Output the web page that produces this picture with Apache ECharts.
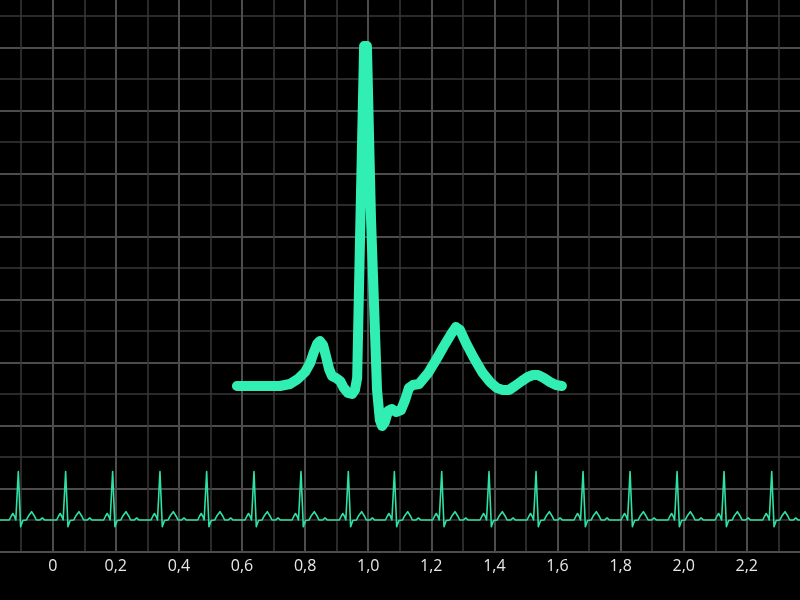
<!DOCTYPE html>
<html>
<head>
<meta charset="utf-8">
<script src="https://cdn.jsdelivr.net/npm/echarts@6/dist/echarts.min.js"></script>
<style>
html,body{margin:0;padding:0;background:#000;overflow:hidden;}
#chart{width:800px;height:600px;}
</style>
</head>
<body>
<div id="chart"></div>
<script>
// X tick values and their labels (comma decimals)
var xTickValues = [0, 0.2, 0.4, 0.6, 0.8, 1.0, 1.2, 1.4, 1.6, 1.8, 2.0, 2.2];
var xTickLabels = ['0', '0,2', '0,4', '0,6', '0,8', '1,0', '1,2', '1,4', '1,6', '1,8', '2,0', '2,2'];

// Large single heartbeat trace: x (time) and y (amplitude, grid units)
var bigX = [0.584, 0.720, 0.752, 0.777, 0.800, 0.816, 0.828, 0.838, 0.847, 0.857, 0.866, 0.876, 0.885, 0.898, 0.911, 0.923, 0.936, 0.949, 0.958, 0.965, 0.974, 0.987, 0.996, 1.009, 1.028, 1.037, 1.044, 1.053, 1.063, 1.075, 1.088, 1.104, 1.117, 1.129, 1.142, 1.161, 1.190, 1.215, 1.240, 1.263, 1.278, 1.291, 1.310, 1.335, 1.361, 1.386, 1.408, 1.427, 1.446, 1.465, 1.487, 1.506, 1.522, 1.538, 1.557, 1.576, 1.595, 1.614];
var bigY = [2.630, 2.630, 2.662, 2.741, 2.852, 2.995, 3.170, 3.297, 3.344, 3.281, 3.106, 2.900, 2.789, 2.757, 2.710, 2.598, 2.519, 2.503, 2.567, 2.757, 4.948, 8.027, 8.027, 5.265, 2.567, 2.090, 1.995, 2.059, 2.233, 2.265, 2.217, 2.249, 2.408, 2.598, 2.646, 2.662, 2.837, 3.044, 3.265, 3.456, 3.567, 3.519, 3.313, 3.075, 2.852, 2.694, 2.598, 2.567, 2.567, 2.630, 2.710, 2.773, 2.805, 2.805, 2.757, 2.694, 2.646, 2.630];

// Small rhythm strip: R-spike times, and one beat shape (offset from spike, amplitude)
var stripBeats = [-0.109, 0.041, 0.190, 0.340, 0.488, 0.638, 0.787, 0.937, 1.083, 1.233, 1.383, 1.532, 1.681, 1.830, 1.979, 2.128, 2.279];
var beatOffsets = [-0.0285, -0.0222, -0.0174, -0.0127, -0.0079, -0.0025, 0, 0.0073, 0.0143, 0.0254, 0.0333, 0.0422, 0.0507, 0.0571, 0.0681, 0.0761, 0.0840];
var beatAmps = [0.503, 0.567, 0.606, 0.567, 0.503, 0.487, 1.273, 0.397, 0.495, 0.503, 0.575, 0.635, 0.567, 0.503, 0.503, 0.535, 0.503];
var stripBaseline = 0.503;
var stripStart = -0.2, stripEnd = 2.4;

var bigData = bigX.map(function (x, i) { return [x, bigY[i]]; });
var stripData = [[stripStart, stripBaseline]];
stripBeats.forEach(function (t) {
  beatOffsets.forEach(function (o, j) { stripData.push([t + o, beatAmps[j]]); });
});
stripData.push([stripEnd, stripBaseline]);

var majorLine = { color: '#4c4c4c', width: 2 };
var minorLine = { color: '#383838', width: 1.5 };

var chart = echarts.init(document.getElementById('chart'));
chart.setOption({
  backgroundColor: '#000000',
  animation: false,
  grid: { left: -10.4, right: -9.9, top: -15.3, bottom: 48.3, containLabel: false, outerBoundsMode: 'none' },
  xAxis: {
    type: 'value', min: -0.2, max: 2.4, interval: 0.2,
    axisLine: { show: true, lineStyle: majorLine },
    axisTick: { show: false },
    minorTick: { show: false, splitNumber: 2 },
    splitLine: { show: true, lineStyle: majorLine },
    minorSplitLine: { show: true, lineStyle: minorLine },
    axisLabel: {
      color: '#e8e8e8', fontSize: 16, fontFamily: 'Open Sans', margin: 7,
      formatter: function (v) {
        for (var i = 0; i < xTickValues.length; i++) {
          if (Math.abs(v - xTickValues[i]) < 1e-6) return xTickLabels[i];
        }
        return '';
      }
    }
  },
  yAxis: {
    type: 'value', min: 0, max: 9, interval: 1,
    axisLine: { show: false },
    axisTick: { show: false },
    axisLabel: { show: false },
    minorTick: { show: false, splitNumber: 2 },
    splitLine: { show: true, lineStyle: majorLine },
    minorSplitLine: { show: true, lineStyle: minorLine }
  },
  series: [
    {
      type: 'line', data: stripData, showSymbol: false, symbol: 'none',
      lineStyle: { color: '#2fe0a6', width: 1.6, join: 'round' },
      z: 3
    },
    {
      type: 'line', data: bigData, showSymbol: false, symbol: 'none',
      lineStyle: { color: '#31efb2', width: 10, cap: 'round', join: 'round' },
      z: 4
    }
  ]
});
</script>
</body>
</html>
